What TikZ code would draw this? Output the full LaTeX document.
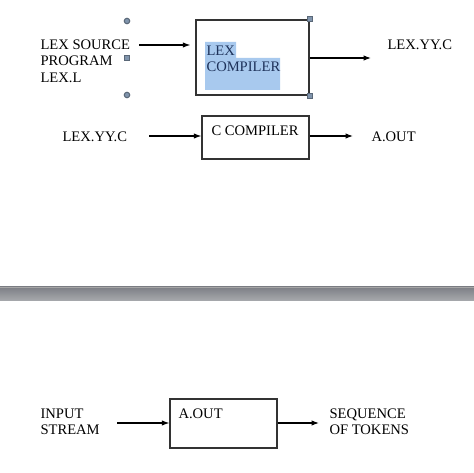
\documentclass[tikz,border=0pt]{standalone}
\usepackage{fontspec}
\setmainfont{Liberation Serif}
\usetikzlibrary{shapes,arrows,arrows.meta}
\definecolor{hilite}{RGB}{168,201,238}
\definecolor{hitext}{RGB}{30,50,90}
\definecolor{handle}{RGB}{128,148,172}
\tikzset{
block/.style = {draw=black!80, line width=0.8pt, fill=white, rectangle, inner sep=0},
lbl/.style   = {inner sep=0, align=left, anchor=north west, font=\fontsize{8.3}{9.4}\selectfont},
tmp/.style   = {coordinate},
sqhandle/.style = {draw=handle!70!black, fill=handle, rectangle, minimum size=0.1cm, inner sep=0},
cihandle/.style = {draw=handle!70!black, fill=handle, circle, minimum size=0.11cm, inner sep=0},
}

\begin{document}
\begin{tikzpicture}[x=0.02cm, y=-0.02cm, >={Latex[length=0.15cm,width=0.11cm]}, line width=0.6pt]
    \useasboundingbox (0,0) rectangle (474,473);
    % We start by placing the blocks
    \node [block, minimum width=2.26cm, minimum height=1.5cm] (lexc) at (252.5,57.5) {};
    \node [block, minimum width=2.14cm, minimum height=0.86cm] (ccomp) at (255.5,137.5) {};
    \node [block, minimum width=2.14cm, minimum height=0.98cm] (aout) at (223.5,423.5) {};

    % highlighted text in the first block
    \fill [hilite] (205,42) rectangle (236,58) (205,58) rectangle (280,90);
    \node [lbl, text=hitext] (lexctxt) at (206,45) {LEX\\COMPILER};

    % selection handles
    \node [cihandle] (h1) at (127,21) {};
    \node [sqhandle] (h2) at (127,58) {};
    \node [cihandle] (h3) at (127,95) {};
    \node [sqhandle] (h4) at (lexc.north east) {};
    \node [sqhandle] (h5) at (lexc.south east) {};

    % the labels
    \node [lbl] (lexsrc) at (40,39) {LEX SOURCE\\PROGRAM\\LEX.L};
    \node [lbl] (yyc1) at (387,39) {LEX.YY.C};
    \node [lbl] (yyc2) at (62,131) {LEX.YY.C};
    \node [lbl] (ccomptxt) at (211,125) {C COMPILER};
    \node [lbl] (aout1) at (371,131) {A.OUT};
    \node [lbl] (input) at (40,408) {INPUT\\STREAM};
    \node [lbl] (aouttxt) at (178,408) {A.OUT};
    \node [lbl] (tokens) at (329,408) {SEQUENCE\\OF TOKENS};

    % free ends of the arrows
    \node [tmp] (in1) at (139,45) {};
    \node [tmp] (out1) at (371,58) {};
    \node [tmp] (in2) at (149,136) {};
    \node [tmp] (out2) at (353,136) {};
    \node [tmp] (in3) at (117,423) {};
    \node [tmp] (out3) at (319,423) {};

    % Once the nodes are placed, connecting them is easy.
    \draw [->] (in1) -- ([xshift=-0.1cm]lexc.west |- in1);
    \draw [->] (lexc.east |- out1) -- (out1);
    \draw [->] (in2) -- (ccomp.west |- in2);
    \draw [->] (ccomp.east |- out2) -- (out2);
    \draw [->] (in3) -- (aout.west |- in3);
    \draw [->] (aout.east |- out3) -- (out3);

    % the page break
    \shade [top color={rgb,255:red,125;green,127;blue,133}, bottom color={rgb,255:red,168;green,170;blue,174}] (0,287) rectangle (474,301);
    \draw [line width=0.4pt, black!35] (0,287) -- (474,287);
\end{tikzpicture}
\end{document}
